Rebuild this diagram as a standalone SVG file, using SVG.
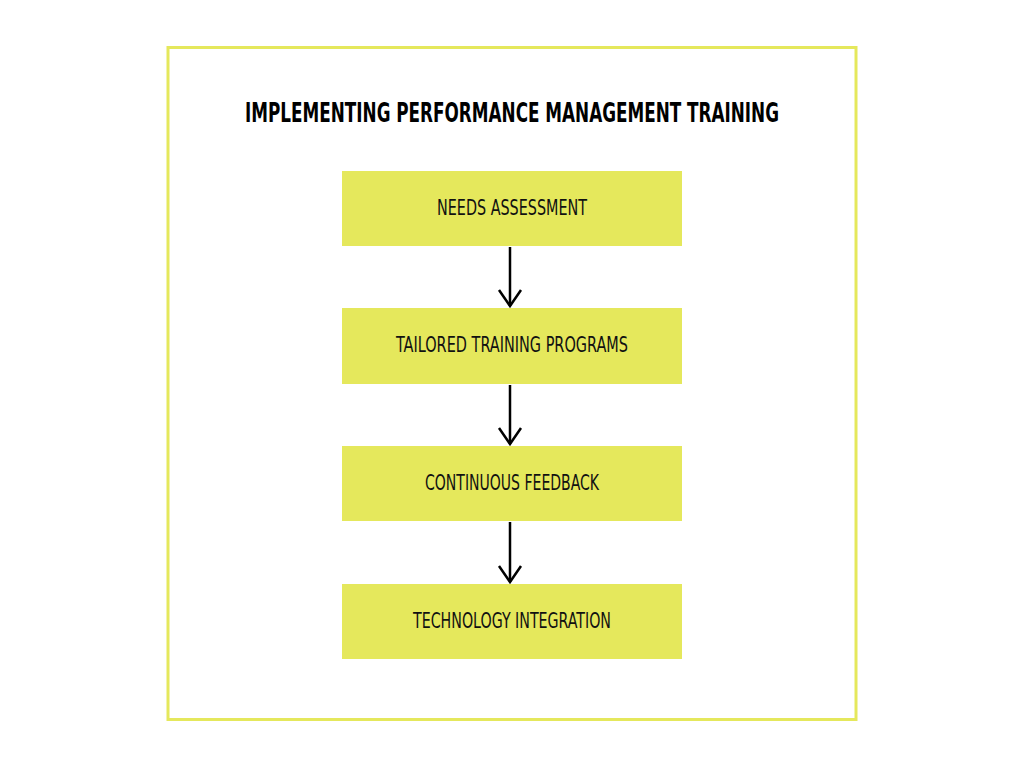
<svg xmlns="http://www.w3.org/2000/svg" width="1024" height="768" viewBox="0 0 1024 768">
<defs>
<style>
.box{fill:#e5e85c;}
.lbl{font-family:"DejaVu Sans Condensed","Liberation Sans Narrow","Liberation Sans",sans-serif;font-size:21.5px;fill:#111;text-anchor:middle;}
.title{font-family:"DejaVu Sans Condensed","Liberation Sans Narrow","Liberation Sans",sans-serif;font-weight:bold;font-size:26px;fill:#000;text-anchor:middle;}
.conn{stroke:#000;stroke-width:2.5;fill:none;}
</style>
</defs>
<rect width="1024" height="768" fill="#fff"/>
<rect x="168" y="47.5" width="688" height="672" fill="none" stroke="#e5e85c" stroke-width="3"/>
<text class="title" x="512" y="122" textLength="534" lengthAdjust="spacingAndGlyphs">IMPLEMENTING PERFORMANCE MANAGEMENT TRAINING</text>
<g id="connectors">
<line class="conn" x1="510" y1="247" x2="510" y2="306"/>
<path class="conn" d="M499,290 L510,306 L521,290"/>
<line class="conn" x1="510" y1="385" x2="510" y2="444"/>
<path class="conn" d="M499,428 L510,444 L521,428"/>
<line class="conn" x1="510" y1="522" x2="510" y2="582"/>
<path class="conn" d="M499,566 L510,582 L521,566"/>
</g>
<g id="node1">
<rect class="box" x="342" y="171" width="340" height="75"/>
<text class="lbl" x="512" y="214.5" textLength="150" lengthAdjust="spacingAndGlyphs">NEEDS ASSESSMENT</text>
</g>
<g id="node2">
<rect class="box" x="342" y="308" width="340" height="76"/>
<text class="lbl" x="512" y="351.5" textLength="232" lengthAdjust="spacingAndGlyphs">TAILORED TRAINING PROGRAMS</text>
</g>
<g id="node3">
<rect class="box" x="342" y="446" width="340" height="75"/>
<text class="lbl" x="512" y="489.5" textLength="174" lengthAdjust="spacingAndGlyphs">CONTINUOUS FEEDBACK</text>
</g>
<g id="node4">
<rect class="box" x="342" y="584" width="340" height="75"/>
<text class="lbl" x="512" y="627.5" textLength="198" lengthAdjust="spacingAndGlyphs">TECHNOLOGY INTEGRATION</text>
</g>
</svg>
